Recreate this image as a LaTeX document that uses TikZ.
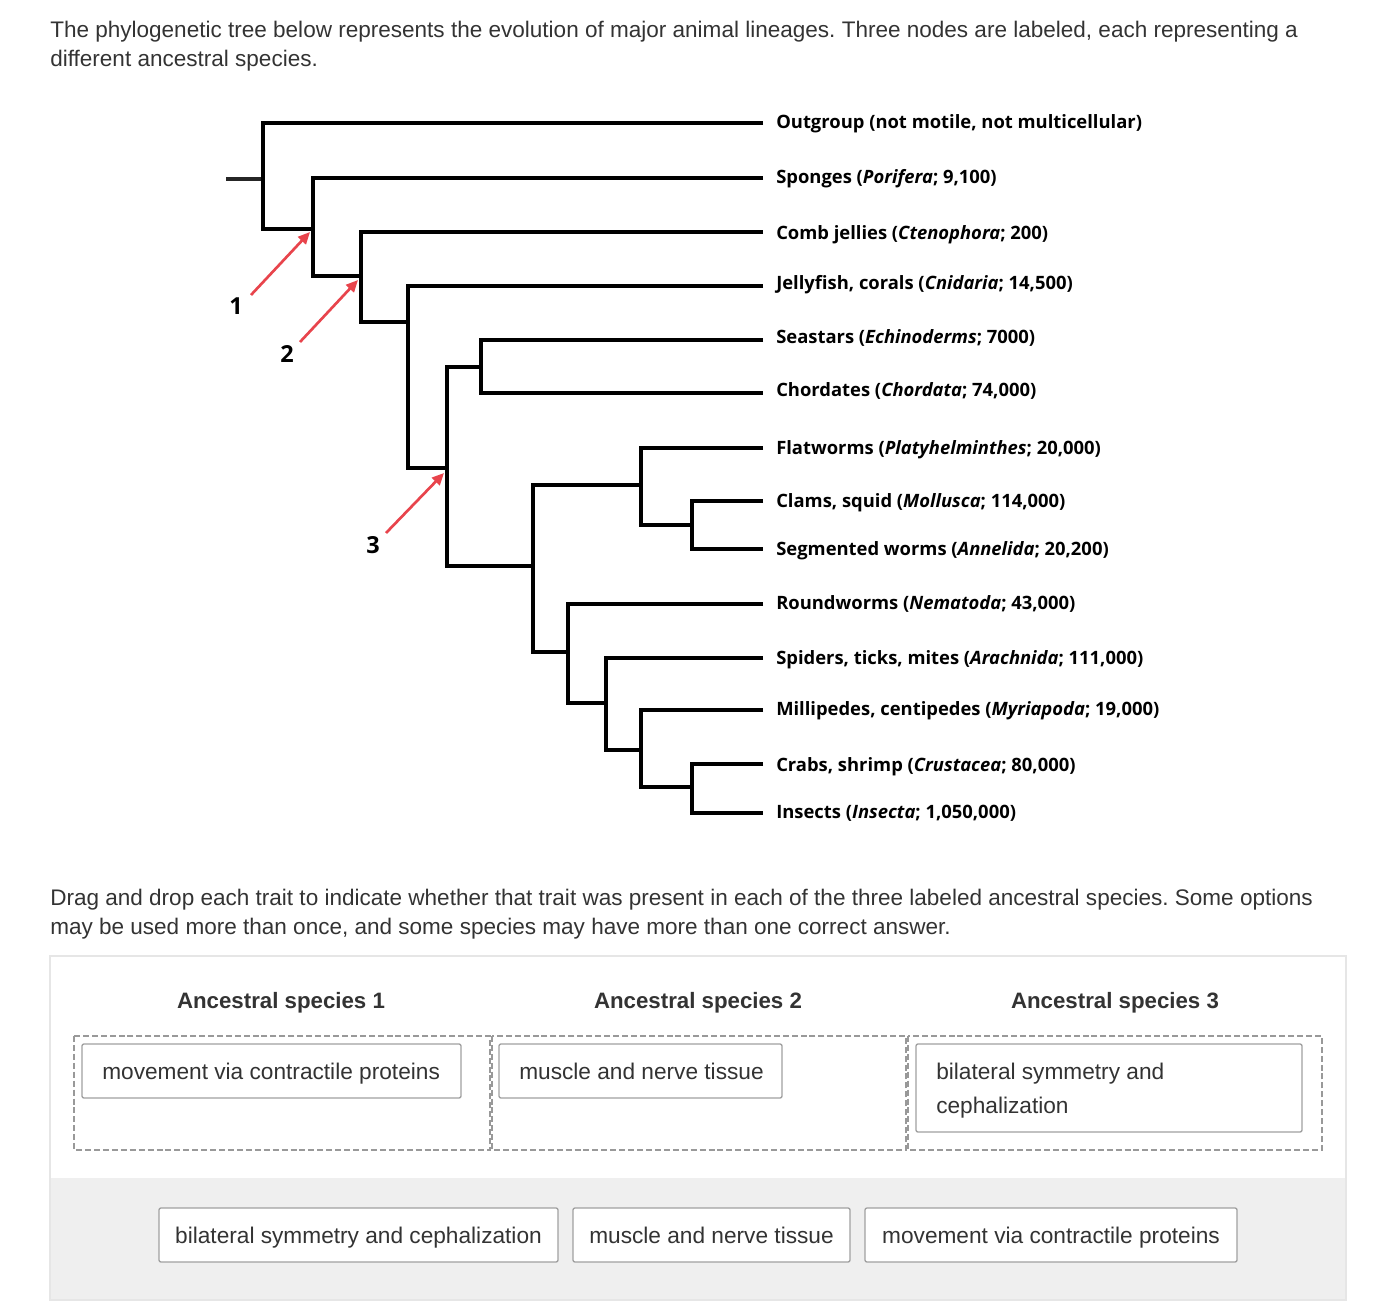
\documentclass[tikz,border=0pt]{standalone}
\usepackage{fontspec}
\setmainfont{Liberation Sans}
\newfontfamily\osans{Open Sans}
\usetikzlibrary{arrows.meta}
\definecolor{txt}{HTML}{333333}
\definecolor{redarr}{HTML}{E8444C}
\definecolor{panelgray}{HTML}{EFEFEF}
\definecolor{panelline}{HTML}{E6E6E6}
\definecolor{cardline}{HTML}{A0A0A0}
\definecolor{dashline}{HTML}{999999}
\frenchspacing
\begin{document}
\begin{tikzpicture}[x=0.75pt,y=-0.75pt,
  br/.style={line width=2.5pt, line join=miter, black},
  stub/.style={line width=2.4pt, black!85},
  leaf/.style={anchor=base west, inner sep=0pt, font=\osans\bfseries\fontsize{13.8}{16}\selectfont},
  ptr/.style={line width=2pt, redarr, -{Triangle[length=9pt,width=8pt]}},
  numlab/.style={inner sep=0pt, font=\osans\bfseries\fontsize{17.6}{20}\selectfont},
  body/.style={anchor=base west, inner sep=0pt, text=txt, font=\fontsize{16.9}{20}\selectfont},
  head/.style={anchor=base, inner sep=0pt, text=txt, font=\bfseries\fontsize{16.7}{20}\selectfont},
  cardbox/.style={draw=cardline, line width=1pt, fill=white, rounded corners=1.5pt},
  cardtxt/.style={inner sep=0pt, text=txt, font=\fontsize{17}{20}\selectfont},
  zone/.style={draw=dashline, line width=1.6pt, dash pattern=on 4.5pt off 2.2pt}
]
\useasboundingbox (0,0) rectangle (1388,1312);
\fill[white] (0,0) rectangle (1388,1312);

% intro text
\node[body] (intro1) at (50,38) {The phylogenetic tree below represents the evolution of major animal lineages. Three nodes are labeled, each representing a};
\node[body] (intro2) at (50,67) {different ancestral species.};

% leaf endpoints
\coordinate (lOut) at (763,123);
\coordinate (lSpo) at (763,178);
\coordinate (lCom) at (763,232);
\coordinate (lJel) at (763,286);
\coordinate (lSea) at (763,340);
\coordinate (lCho) at (763,393);
\coordinate (lFla) at (763,448);
\coordinate (lCla) at (763,501);
\coordinate (lSeg) at (763,549);
\coordinate (lRou) at (763,604);
\coordinate (lSpi) at (763,658);
\coordinate (lMil) at (763,710);
\coordinate (lCra) at (763,764);
\coordinate (lIns) at (763,813);

% internal nodes (attachment points)
\coordinate (root) at (226,179);
\coordinate (n0) at (263,179);
\coordinate (n1) at (313,229);
\coordinate (n2) at (361,276);
\coordinate (n3) at (408,322);
\coordinate (n4) at (447,468);
\coordinate (n5) at (481,367);
\coordinate (n6) at (533,566);
\coordinate (n7) at (641,485);
\coordinate (n9) at (692,525);
\coordinate (n8) at (568,652);
\coordinate (n10) at (606,703);
\coordinate (n11) at (641,750);
\coordinate (n12) at (692,787);

% branches
\draw[stub] (root) -- (n0);
\draw[br] (lOut) -| (n0) |- (n1);
\draw[br] (lSpo) -| (n1) |- (n2);
\draw[br] (lCom) -| (n2) |- (n3);
\draw[br] (lJel) -| (n3) |- (n4);
\draw[br] (n5) -| (n4) |- (n6);
\draw[br] (lSea) -| (n5) |- (lCho);
\draw[br] (n7) -| (n6) |- (n8);
\draw[br] (lFla) -| (n7) |- (n9);
\draw[br] (lCla) -| (n9) |- (lSeg);
\draw[br] (lRou) -| (n8) |- (n10);
\draw[br] (lSpi) -| (n10) |- (n11);
\draw[br] (lMil) -| (n11) |- (n12);
\draw[br] (lCra) -| (n12) |- (lIns);

% leaf labels
\node[leaf] (tOut) at (776,129) {Outgroup (not motile, not multicellular)};
\node[leaf] (tSpo) at (776,184) {Sponges (\textit{Porifera}; 9,100)};
\node[leaf] (tCom) at (776,240) {Comb jellies (\textit{Ctenophora}; 200)};
\node[leaf] (tJel) at (776,290) {Jellyfish, corals (\textit{Cnidaria}; 14,500)};
\node[leaf] (tSea) at (776,344) {Seastars (\textit{Echinoderms}; 7000)};
\node[leaf] (tCho) at (776,397) {Chordates (\textit{Chordata}; 74,000)};
\node[leaf] (tFla) at (776,454) {Flatworms (\textit{Platyhelminthes}; 20,000)};
\node[leaf] (tCla) at (776,507) {Clams, squid (\textit{Mollusca}; 114,000)};
\node[leaf] (tSeg) at (776,555) {Segmented worms (\textit{Annelida}; 20,200)};
\node[leaf] (tRou) at (776,609) {Roundworms (\textit{Nematoda}; 43,000)};
\node[leaf] (tSpi) at (776,664) {Spiders, ticks, mites (\textit{Arachnida}; 111,000)};
\node[leaf] (tMil) at (776,715) {Millipedes, centipedes (\textit{Myriapoda}; 19,000)};
\node[leaf] (tCra) at (776,771) {Crabs, shrimp (\textit{Crustacea}; 80,000)};
\node[leaf] (tIns) at (776,818) {Insects (\textit{Insecta}; 1,050,000)};

% pointers
\coordinate (a1s) at (251,295);
\coordinate (a1e) at (310,232);
\coordinate (a2s) at (300,342);
\coordinate (a2e) at (358,280);
\coordinate (a3s) at (386,533);
\coordinate (a3e) at (444,473);
\draw[ptr] (a1s) -- (a1e);
\draw[ptr] (a2s) -- (a2e);
\draw[ptr] (a3s) -- (a3e);
\node[numlab] (k1) at (236,306) {1};
\node[numlab] (k2) at (287,354) {2};
\node[numlab] (k3) at (373,545) {3};

% instructions
\node[body] (ins1) at (50,905) {Drag and drop each trait to indicate whether that trait was present in each of the three labeled ancestral species. Some options};
\node[body] (ins2) at (50,934) {may be used more than once, and some species may have more than one correct answer.};

% panel
\fill[panelgray] (50,1178) rectangle (1346,1300);
\draw[panelline, line width=1pt] (50,956) rectangle (1346,1300);

% headers
\node[head] (h1) at (281,1008) {Ancestral species 1};
\node[head] (h2) at (698,1008) {Ancestral species 2};
\node[head] (h3) at (1115,1008) {Ancestral species 3};

% drop zones
\draw[zone] (74,1036) rectangle (490,1150);
\draw[zone] (492,1036) rectangle (906,1150);
\draw[zone] (908,1036) rectangle (1322,1150);

% placed cards
\draw[cardbox] (82,1044) rectangle (461,1098);
\node[cardtxt, anchor=base west] (p1) at (102,1079) {movement via contractile proteins};
\draw[cardbox] (499,1044) rectangle (782,1098);
\node[cardtxt, anchor=base west] (p2) at (519,1079) {muscle and nerve tissue};
\draw[cardbox] (916,1044) rectangle (1302,1132);
\node[cardtxt, anchor=base west] (p3a) at (936,1079) {bilateral symmetry and};
\node[cardtxt, anchor=base west] (p3b) at (936,1113) {cephalization};

% source cards
\draw[cardbox] (159,1208) rectangle (558,1262);
\node[cardtxt, anchor=base] (s1) at (358.5,1243) {bilateral symmetry and cephalization};
\draw[cardbox] (573,1208) rectangle (850,1262);
\node[cardtxt, anchor=base] (s2) at (711.5,1243) {muscle and nerve tissue};
\draw[cardbox] (865,1208) rectangle (1237,1262);
\node[cardtxt, anchor=base] (s3) at (1051,1243) {movement via contractile proteins};
\end{tikzpicture}
\end{document}
